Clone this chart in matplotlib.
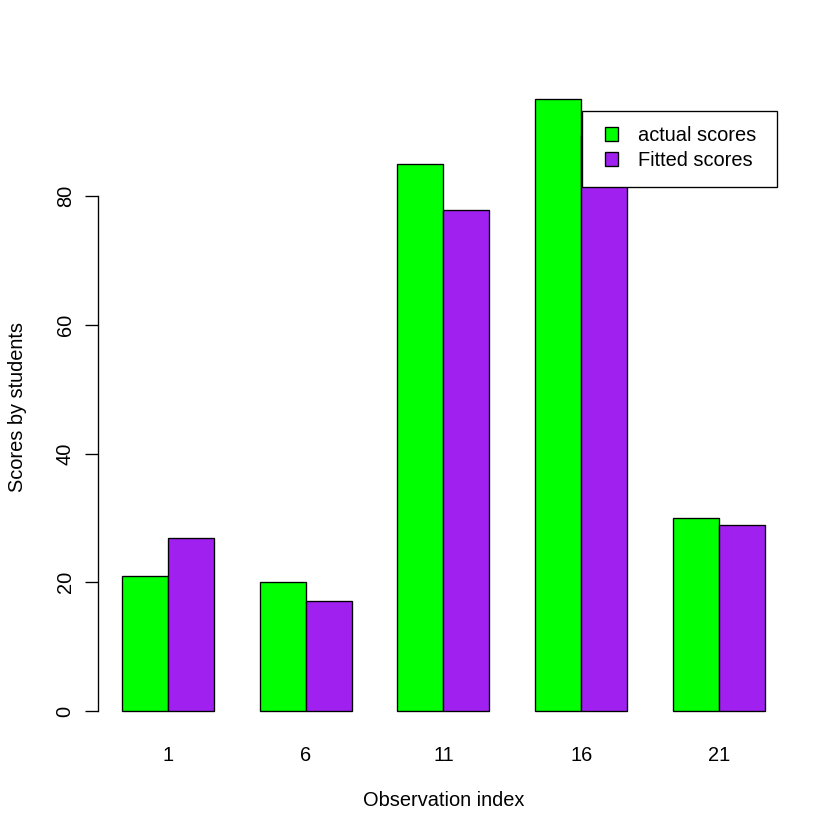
import numpy as np
import matplotlib.pyplot as plt
from matplotlib.patches import Patch, Rectangle

plt.rcParams["font.family"] = ["Liberation Sans", "DejaVu Sans"]

obs_index = ["1", "6", "11", "16", "21"]
actual_scores = [21, 20, 85, 95, 30]
fitted_scores = [26.92, 17.15, 77.76, 89.49, 28.88]
y_ticks = [0, 20, 40, 60, 80]

green = "#00FF00"
purple = "#A020F0"

fig = plt.figure(figsize=(7, 7), dpi=120)
ax = fig.add_axes([0.1163, 0.1244, 0.8233, 0.7863])

# R style barplot(beside=TRUE): two bars per group, one bar of space between groups
x = np.arange(len(obs_index)) * 3 + 1
ax.bar(x, actual_scores, width=1, align="edge", color=green, edgecolor="black", lw=0.8, zorder=2)
ax.bar(x + 1, fitted_scores, width=1, align="edge", color=purple, edgecolor="black", lw=0.8, zorder=2)

ymax = max(max(actual_scores), max(fitted_scores))
ax.set_xlim(x[0] - 0.04 * (x[-1] + 1 - x[0]), x[-1] + 2 + 0.04 * (x[-1] + 1 - x[0]))
ax.set_ylim(-0.04 * ymax, 1.04 * ymax)

ax.set_xticks(x + 1, obs_index)
ax.set_yticks(y_ticks, [str(t) for t in y_ticks])
for lab in ax.get_yticklabels():
    lab.set_rotation(90)
    lab.set_va("center")
ax.tick_params(axis="x", length=0, pad=6, labelsize=12)
ax.tick_params(axis="y", length=7.8, width=0.8, pad=6, labelsize=12)

for s in ["top", "right", "bottom"]:
    ax.spines[s].set_visible(False)
ax.spines["left"].set_bounds(y_ticks[0], y_ticks[-1])
ax.spines["left"].set_linewidth(0.8)

ax.set_xlabel("Observation index", fontsize=12, va="center")
ax.xaxis.set_label_coords(0.5, -0.099)
ax.set_ylabel("Scores by students", fontsize=12, va="center")
ax.yaxis.set_label_coords(-0.116, 0.497)

# legend box
ax.add_patch(Rectangle((0.701, 0.8304), 0.281, 0.1151, transform=ax.transAxes,
                       facecolor="white", edgecolor="black", lw=0.8, zorder=4))
handles = [Patch(facecolor=green, edgecolor="black", lw=0.8),
           Patch(facecolor=purple, edgecolor="black", lw=0.8)]
leg = ax.legend(handles, ["actual scores", "Fitted scores"], loc="center left",
                bbox_to_anchor=(0.733, 0.8895), frameon=False, borderpad=0,
                borderaxespad=0, handlelength=0.65, handleheight=0.65,
                handletextpad=1.0, labelspacing=0.3, fontsize=12)
leg.set_zorder(5)

fig.savefig("out.png", dpi=120)
